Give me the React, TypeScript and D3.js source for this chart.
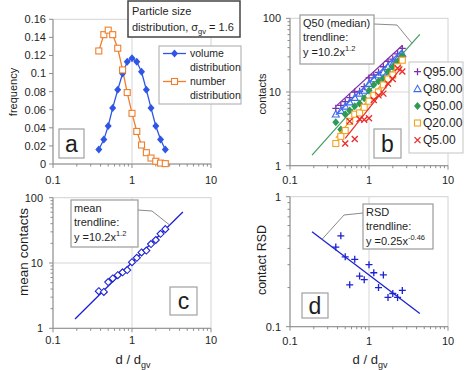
import React from 'react';
import * as d3 from 'd3';

// size classes d/dgv (shared by all four panels)
const sizeRatio = [0.38, 0.44, 0.5, 0.57, 0.66, 0.76, 0.87, 1.0, 1.15, 1.32, 1.52, 1.74, 2.0, 2.3, 2.64];

// panel a
const volumeFreq = [0.016, 0.027, 0.042, 0.062, 0.082, 0.1, 0.113, 0.117, 0.113, 0.102, 0.082, 0.062, 0.042, 0.027, 0.016];
const numberFreq = [0.125, 0.143, 0.148, 0.143, 0.128, 0.104, 0.079, 0.056, 0.036, 0.021, 0.0125, 0.0066, 0.003, 0.001, 0.0004];
const freqTicks = [0, 0.02, 0.04, 0.06, 0.08, 0.1, 0.12, 0.14, 0.16];

// panel b (contact percentiles)
const q95 = [6.0, 6.6, 7.4, 8.4, 10.0, 10.2, 11.8, 15.5, 17.0, 18.5, 22, 26, 28, 33, 39];
const q80 = [5.0, 5.6, 6.4, 7.3, 8.4, 9.6, 10.5, 13.0, 15.0, 17.0, 18.5, 22, 24, 28.5, 33];
const q50 = [3.9, 3.1, 5.0, 5.6, 6.4, 7.0, 8.2, 10.5, 12.5, 14.0, 15.0, 19.0, 22.0, 26.0, 31.0];
const q20 = [2.0, 2.5, 3.0, 4.0, 5.0, 5.2, 6.2, 7.5, 9.0, 10.0, 12.5, 15.0, 17.0, 22.0, 27.0];
const q5 = [null, null, 2.0, 4.0, 2.3, 4.3, 4.2, 4.4, 7.8, 9.0, 9.5, 13.0, 15.0, 21.0, 19.0];
const pctNames = ['Q95.00', 'Q80.00', 'Q50.00', 'Q20.00', 'Q5.00'];
// power-law fits [coef, exponent] drawn through each percentile
const pctFits = [[16.5, 0.98], [13.5, 1.05], [10.2, 1.2], [8.0, 1.25], [6.0, 1.35]];

// panel c
const meanContacts = [3.7, 3.6, 5.1, 5.8, 6.5, 7.2, 7.8, 10.3, 12.0, 14.5, 15.5, 19.5, 22.5, 28.0, 33.0];
const meanFit = [10.2, 1.2];

// panel d
const contactRSD = [0.41, 0.5, 0.345, 0.21, 0.33, 0.245, 0.23, 0.3, 0.26, 0.2, 0.25, 0.168, 0.18, 0.168, 0.19];
const rsdFit = [0.25, -0.46];

const trendSpan = [0.19, 4.4];
const logLabels = [0.1, 1, 10];

const FONT = 'Liberation Sans, Arial, sans-serif';
const TXT = '#1e1e1e';
const AXIS = '#8c8c8c';
const BORDER = '#d2d2d2';
const GRID = '#d6d6d6';

const colors = {
  volume: '#2f55e6',
  number: '#f07f2c',
  pct: ['#7b2fa8', '#3c6cf0', '#2e9a55', '#f5a21f', '#ea2a2a'],
  trendB: '#3f9c5e',
  blue: '#1c22d0',
};
const pctShapes = ['plus', 'triangle', 'diamond', 'square', 'cross'];

function Marker({ type, cx, cy, color }) {
  switch (type) {
    case 'diamond':
      return <path d={`M${cx},${cy - 4}L${cx + 3.5},${cy}L${cx},${cy + 4}L${cx - 3.5},${cy}Z`} fill={color} />;
    case 'odiamond':
      return <path d={`M${cx},${cy - 3.5}L${cx + 3.5},${cy}L${cx},${cy + 3.5}L${cx - 3.5},${cy}Z`} fill="white" stroke={color} strokeWidth={1.1} />;
    case 'square':
      return <rect x={cx - 3} y={cy - 3} width={6} height={6} fill="white" stroke={color} strokeWidth={1.1} />;
    case 'triangle':
      return <path d={`M${cx},${cy - 3.5}L${cx + 3.5},${cy + 2.8}L${cx - 3.5},${cy + 2.8}Z`} fill="none" stroke={color} strokeWidth={1.1} />;
    case 'plus':
      return <path d={`M${cx - 3.5},${cy}H${cx + 3.5}M${cx},${cy - 3.5}V${cy + 3.5}`} stroke={color} strokeWidth={1.3} />;
    case 'cross':
      return <path d={`M${cx - 3},${cy - 3}L${cx + 3},${cy + 3}M${cx - 3},${cy + 3}L${cx + 3},${cy - 3}`} stroke={color} strokeWidth={1.3} />;
    default:
      return null;
  }
}

function Frame({ x, y, yLog, yTicks, gridX, gridY, xLabelOff, yLabelOff }) {
  const [x0, x1] = x.range();
  const [yb, yt] = y.range();
  const isMajor = (t) => logLabels.some((m) => Math.abs(m - t) < 1e-9) || Math.abs(t - 100) < 1e-9;
  const xTicks = x.ticks();
  const yAll = yLog ? y.ticks() : yTicks;
  return (
    <g fontFamily={FONT} fontSize={11} fill={TXT}>
      <rect x={x0} y={yt} width={x1 - x0} height={yb - yt} fill="none" stroke={BORDER} />
      {gridX.map((v) => (
        <line key={'gx' + v} x1={x(v)} x2={x(v)} y1={yt} y2={yb} stroke={GRID} />
      ))}
      {gridY.map((v) => (
        <line key={'gy' + v} x1={x0} x2={x1} y1={y(v)} y2={y(v)} stroke={GRID} />
      ))}
      <line x1={x0} x2={x1} y1={yb} y2={yb} stroke={AXIS} />
      <line x1={x0} x2={x0} y1={yt} y2={yb} stroke={AXIS} />
      {xTicks.map((t) => (
        <line key={'xt' + t} x1={x(t)} x2={x(t)} y1={yb} y2={yb + (isMajor(t) ? 4 : 2.5)} stroke={AXIS} />
      ))}
      {logLabels.map((t) => (
        <text key={'xl' + t} x={x(t)} y={yb + xLabelOff} textAnchor="middle" dy="0.35em">
          {t}
        </text>
      ))}
      {yAll.map((t) => (
        <line key={'yt' + t} x1={x0} x2={x0 - (yLog && !isMajor(t) ? 2.5 : 4)} y1={y(t)} y2={y(t)} stroke={AXIS} />
      ))}
      {yTicks.map((t) => (
        <text key={'yl' + t} x={x0 - yLabelOff} y={y(t)} textAnchor="end" dy="0.35em">
          {String(t)}
        </text>
      ))}
    </g>
  );
}

function LabelBox({ x, y, w, h, t }) {
  return (
    <g>
      <rect x={x} y={y} width={w} height={h} fill="white" stroke="#a0a0a0" strokeWidth={1.2} />
      <text x={x + w / 2} y={y + h / 2} dy="0.35em" textAnchor="middle" fontFamily={FONT} fontSize={23} fill={TXT}>
        {t}
      </text>
    </g>
  );
}

function Callout({ x, y, w, h, lines, exp, coef }) {
  const first = y + 12;
  const step = 14;
  return (
    <g fontFamily={FONT} fontSize={11} fill={TXT}>
      <rect x={x} y={y} width={w} height={h} fill="white" stroke="#9a9a9a" strokeWidth={1.2} />
      {lines.map((l, i) => (
        <text key={l} x={x + 3} y={first + i * step}>
          {l}
        </text>
      ))}
      <text x={x + 3} y={first + lines.length * step + 1}>
        {'y =' + coef + 'x'}
        <tspan fontSize={7.5} dy={-5}>
          {exp}
        </tspan>
      </text>
    </g>
  );
}

function XTitle({ cx, cy }) {
  return (
    <text x={cx} y={cy} textAnchor="middle" fontFamily={FONT} fontSize={13} fill={TXT}>
      d / d
      <tspan fontSize={9} dy={4}>
        gv
      </tspan>
    </text>
  );
}

function YTitle({ cx, cy, t, size }) {
  return (
    <text transform={`translate(${cx},${cy}) rotate(-90)`} textAnchor="middle" dy="0.35em" fontFamily={FONT} fontSize={size} fill={TXT}>
      {t}
    </text>
  );
}

export default function App() {
  const xA = d3.scaleLog().domain([0.1, 10]).range([53, 211]);
  const yA = d3.scaleLinear().domain([0, 0.16]).range([164, 19.3]);
  const xB = d3.scaleLog().domain([0.1, 10]).range([290, 448]);
  const yB = d3.scaleLog().domain([1, 100]).range([165.7, 18.3]);
  const xC = d3.scaleLog().domain([0.1, 10]).range([53, 211]);
  const yC = d3.scaleLog().domain([1, 100]).range([328.3, 197.7]);
  const xD = d3.scaleLog().domain([0.1, 10]).range([290, 448]);
  const yD = d3.scaleLog().domain([0.1, 1]).range([326.7, 196.7]);

  const lineA = d3.line().x((d) => xA(d[0])).y((d) => yA(d[1]));
  const volPts = sizeRatio.map((s, i) => [s, volumeFreq[i]]);
  const numPts = sizeRatio.map((s, i) => [s, numberFreq[i]]);

  const pctSeries = [q95, q80, q50, q20, q5];
  const power = (fit, xs) => xs.map((v) => [v, fit[0] * Math.pow(v, fit[1])]);
  const lineB = d3.line().x((d) => xB(d[0])).y((d) => yB(d[1]));
  const lineC = d3.line().x((d) => xC(d[0])).y((d) => yC(d[1]));
  const lineD = d3.line().x((d) => xD(d[0])).y((d) => yD(d[1]));

  // leader line targets on the trendlines
  const tipB = power(pctFits[2], [3.5])[0];
  const tipC = power(meanFit, [3.0])[0];
  const tipD = power(rsdFit, [0.254])[0];

  return (
    <svg width={474} height={370} style={{ position: 'absolute', left: 0, top: 0, background: 'white' }}>
      {/* ---- panel a ---- */}
      <Frame x={xA} y={yA} yLog={false} yTicks={freqTicks} gridX={[1]} gridY={[]} xLabelOff={16} yLabelOff={7} />
      <path d={lineA(volPts)} fill="none" stroke={colors.volume} strokeWidth={1.3} />
      <path d={lineA(numPts)} fill="none" stroke={colors.number} strokeWidth={1.3} />
      {volPts.map((p, i) => (
        <Marker key={'v' + i} type="diamond" cx={xA(p[0])} cy={yA(p[1])} color={colors.volume} />
      ))}
      {numPts.map((p, i) => (
        <Marker key={'n' + i} type="square" cx={xA(p[0])} cy={yA(p[1])} color={colors.number} />
      ))}
      <YTitle cx={13} cy={92} t="frequency" size={11} />
      <LabelBox x={59} y={129} w={25} h={29} t="a" />
      <g fontFamily={FONT} fontSize={11} fill={TXT}>
        <rect x={128} y={1} width={112} height={36} fill="white" stroke="#444" strokeWidth={1.5} />
        <text x={132} y={14.5}>Particle size</text>
        <text x={132} y={30.5}>
          distribution, σ
          <tspan fontSize={7.5} dy={3}>gv</tspan>
          <tspan dy={-3}> = 1.6</tspan>
        </text>
      </g>
      <g fontFamily={FONT} fontSize={10.5} fill={TXT}>
        <rect x={159} y={46} width={82} height={58} fill="white" stroke="#a8a8a8" />
        <line x1={163} x2={186} y1={53.5} y2={53.5} stroke={colors.volume} strokeWidth={1.3} />
        <Marker type="diamond" cx={174.5} cy={53.5} color={colors.volume} />
        <text x={190} y={53.5} dy="0.35em">volume</text>
        <text x={190} y={67} dy="0.35em">distribution</text>
        <line x1={163} x2={186} y1={81.5} y2={81.5} stroke={colors.number} strokeWidth={1.3} />
        <Marker type="square" cx={174.5} cy={81.5} color={colors.number} />
        <text x={190} y={81.5} dy="0.35em">number</text>
        <text x={190} y={95} dy="0.35em">distribution</text>
      </g>

      {/* ---- panel b ---- */}
      <Frame x={xB} y={yB} yLog={true} yTicks={[1, 10, 100]} gridX={[1]} gridY={[10]} xLabelOff={14} yLabelOff={9} />
      <path d={lineB(power(pctFits[2], trendSpan))} fill="none" stroke={colors.trendB} strokeWidth={1.2} />
      {pctSeries.map((ser, k) => {
        const xs = sizeRatio.filter((_, i) => ser[i] != null);
        return (
          <g key={'s' + k}>
            {k !== 2 && (
              <path d={lineB(power(pctFits[k], [xs[0], xs[xs.length - 1]]))} fill="none" stroke={colors.pct[k]} strokeWidth={1.2} />
            )}
            {ser.map((v, i) =>
              v == null ? null : <Marker key={i} type={pctShapes[k]} cx={xB(sizeRatio[i])} cy={yB(v)} color={colors.pct[k]} />
            )}
          </g>
        );
      })}
      <YTitle cx={262} cy={94} t="contacts" size={11} />
      <Callout x={300} y={15} w={74} h={49} lines={['Q50 (median)', 'trendline:']} coef={pctFits[2][0]} exp={pctFits[2][1]} />
      <polyline points={`374,24 397,25 ${xB(tipB[0])},${yB(tipB[1])}`} fill="none" stroke="#8a8a8a" />
      <g fontFamily={FONT} fontSize={12} fill={TXT}>
        <rect x={409} y={62} width={54} height={91} fill="white" stroke="#c4c4c4" />
        {pctNames.map((n, k) => (
          <g key={n}>
            <Marker type={pctShapes[k]} cx={417.5} cy={71.7 + k * 17.1} color={colors.pct[k]} />
            <text x={423} y={71.7 + k * 17.1} dy="0.35em">
              {n}
            </text>
          </g>
        ))}
      </g>
      <LabelBox x={374} y={129} w={27} h={29} t="b" />

      {/* ---- panel c ---- */}
      <Frame x={xC} y={yC} yLog={true} yTicks={[1, 10, 100]} gridX={[1]} gridY={[10]} xLabelOff={12} yLabelOff={10} />
      <path d={lineC(power(meanFit, trendSpan))} fill="none" stroke={colors.blue} strokeWidth={1.3} />
      {meanContacts.map((v, i) => (
        <Marker key={'c' + i} type="odiamond" cx={xC(sizeRatio[i])} cy={yC(v)} color={colors.blue} />
      ))}
      <YTitle cx={23} cy={252} t="mean contacts" size={13.5} />
      <XTitle cx={133} cy={364} />
      <Callout x={71} y={200} w={67} h={47} lines={['mean', 'trendline:']} coef={meanFit[0]} exp={meanFit[1]} />
      <polyline points={`138,210 152,211 ${xC(tipC[0])},${yC(tipC[1])}`} fill="none" stroke="#8a8a8a" />
      <LabelBox x={170} y={287} w={27} h={28} t="c" />

      {/* ---- panel d ---- */}
      <Frame x={xD} y={yD} yLog={true} yTicks={[0.1, 1]} gridX={[1]} gridY={[]} xLabelOff={14} yLabelOff={9} />
      <path d={lineD(power(rsdFit, trendSpan))} fill="none" stroke={colors.blue} strokeWidth={1.3} />
      {contactRSD.map((v, i) => (
        <Marker key={'d' + i} type="plus" cx={xD(sizeRatio[i])} cy={yD(v)} color={colors.blue} />
      ))}
      <YTitle cx={262} cy={260} t="contact RSD" size={12.5} />
      <XTitle cx={370} cy={364} />
      <Callout x={363} y={204} w={70} h={45} lines={['RSD', 'trendline:']} coef={rsdFit[0]} exp={rsdFit[1]} />
      <polyline points={`363,213 344,215 ${xD(tipD[0])},${yD(tipD[1])}`} fill="none" stroke="#8a8a8a" />
      <LabelBox x={302} y={293} w={26} h={25} t="d" />
    </svg>
  );
}
